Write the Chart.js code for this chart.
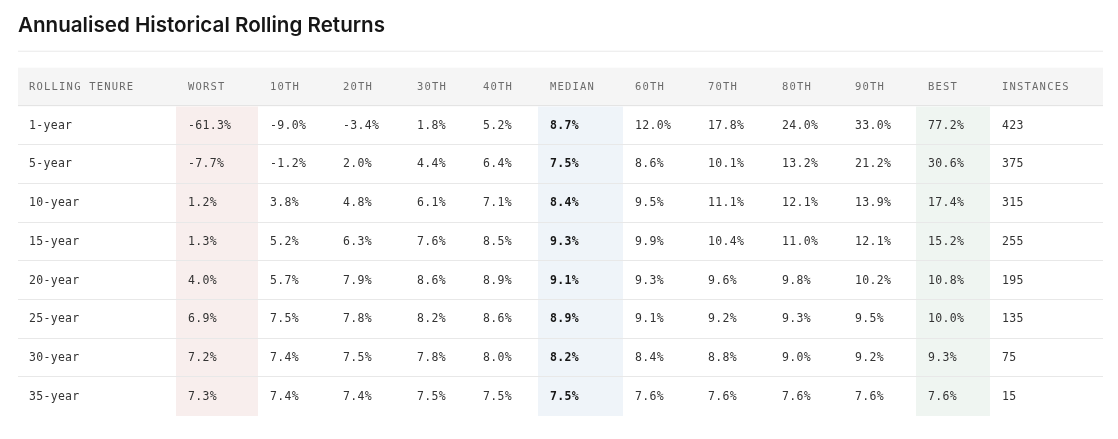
<!DOCTYPE html>
<html>
<head>
<meta charset="utf-8">
<script src="https://cdn.jsdelivr.net/npm/chart.js@4.4.1/dist/chart.umd.min.js"></script>
<style>
  html, body { margin: 0; padding: 0; background: #fff; }
  #wrap { width: 1118px; height: 439px; }
</style>
</head>
<body>
<div id="wrap"><canvas id="rollingReturns"></canvas></div>
<script>
// table data
const headers = ["ROLLING TENURE", "WORST", "10TH", "20TH", "30TH", "40TH", "MEDIAN",
                 "60TH", "70TH", "80TH", "90TH", "BEST", "INSTANCES"];
const tenures = ["1-year", "5-year", "10-year", "15-year", "20-year", "25-year", "30-year", "35-year"];
const worst  = [-61.3, -7.7, 1.2, 1.3, 4.0, 6.9, 7.2, 7.3];
const p10    = [-9.0, -1.2, 3.8, 5.2, 5.7, 7.5, 7.4, 7.4];
const p20    = [-3.4, 2.0, 4.8, 6.3, 7.9, 7.8, 7.5, 7.4];
const p30    = [1.8, 4.4, 6.1, 7.6, 8.6, 8.2, 7.8, 7.5];
const p40    = [5.2, 6.4, 7.1, 8.5, 8.9, 8.6, 8.0, 7.5];
const median = [8.7, 7.5, 8.4, 9.3, 9.1, 8.9, 8.2, 7.5];
const p60    = [12.0, 8.6, 9.5, 9.9, 9.3, 9.1, 8.4, 7.6];
const p70    = [17.8, 10.1, 11.1, 10.4, 9.6, 9.2, 8.8, 7.6];
const p80    = [24.0, 13.2, 12.1, 11.0, 9.8, 9.3, 9.0, 7.6];
const p90    = [33.0, 21.2, 13.9, 12.1, 10.2, 9.5, 9.2, 7.6];
const best   = [77.2, 30.6, 17.4, 15.2, 10.8, 10.0, 9.3, 7.6];
const instances = [423, 375, 315, 255, 195, 135, 75, 15];

const valueCols = [worst, p10, p20, p30, p40, median, p60, p70, p80, p90, best];

// layout: column widths in x-scale units
const colWidths = [158, 82, 73, 74, 66, 67, 85, 73, 74, 73, 73, 74, 113];
const colStarts = [];
colWidths.reduce((acc, w) => { colStarts.push(acc); return acc + w; }, 0);
const tableWidth = colWidths.reduce((a, b) => a + b, 0);

const shades = { 1: "#f8eeed", 6: "#eff4f9", 11: "#eff5f1" };
const monoFont = "'DejaVu Sans Mono', 'Liberation Mono', monospace";

const tablePlugin = {
  id: "tablePlugin",
  beforeDraw(chart) {
    const { ctx, chartArea, scales: { x, y } } = chart;
    ctx.save();

    // rule under the title
    ctx.fillStyle = "#e9e9e9";
    ctx.fillRect(chartArea.left, chartArea.top - 17, chartArea.right - chartArea.left, 1);

    const left = x.getPixelForValue(0);
    const right = x.getPixelForValue(tableWidth);

    // header band
    ctx.fillStyle = "#f5f5f5";
    ctx.fillRect(left, y.getPixelForValue(0), right - left, y.getPixelForValue(1) - y.getPixelForValue(0));

    // shaded columns
    Object.keys(shades).forEach(k => {
      const c = +k;
      const x0 = x.getPixelForValue(colStarts[c]);
      const x1 = x.getPixelForValue(colStarts[c] + colWidths[c]);
      ctx.fillStyle = shades[k];
      ctx.fillRect(x0, y.getPixelForValue(1), x1 - x0, y.getPixelForValue(tenures.length + 1) - y.getPixelForValue(1));
    });

    // row separators
    for (let r = 1; r <= tenures.length; r++) {
      const py = Math.round(y.getPixelForValue(r));
      ctx.fillStyle = r === 1 ? "#e4e4e4" : "#e8e8e8";
      ctx.fillRect(left, py - 1, right - left, 1);
    }

    // header text
    ctx.textBaseline = "middle";
    ctx.textAlign = "left";
    ctx.fillStyle = "#6b6b6b";
    ctx.font = "400 10.5px " + monoFont;
    if ("letterSpacing" in ctx) ctx.letterSpacing = "1.2px";
    headers.forEach((h, c) => {
      ctx.fillText(h, x.getPixelForValue(colStarts[c]) + (c === 0 ? 11 : 12), y.getPixelForValue(0.5));
    });

    // body text
    if ("letterSpacing" in ctx) ctx.letterSpacing = "0.3px";
    tenures.forEach((t, r) => {
      const py = y.getPixelForValue(r + 1.5);
      ctx.font = "400 11.5px " + monoFont;
      ctx.fillStyle = "#333333";
      ctx.fillText(t, x.getPixelForValue(colStarts[0]) + 11, py);
      valueCols.forEach((arr, i) => {
        const c = i + 1;
        const isMedian = arr === median;
        ctx.font = (isMedian ? "700 " : "400 ") + "11.5px " + monoFont;
        ctx.fillStyle = isMedian ? "#161616" : "#333333";
        ctx.fillText(arr[r].toFixed(1) + "%", x.getPixelForValue(colStarts[c]) + 12, py);
      });
      ctx.font = "400 11.5px " + monoFont;
      ctx.fillStyle = "#333333";
      ctx.fillText(String(instances[r]), x.getPixelForValue(colStarts[12]) + 12, py);
    });

    ctx.restore();
  }
};

new Chart(document.getElementById("rollingReturns"), {
  type: "scatter",
  data: { datasets: [] },
  options: {
    responsive: true,
    maintainAspectRatio: false,
    animation: false,
    layout: { padding: { top: 0, left: 18, right: 15, bottom: 23 } },
    scales: {
      x: { type: "linear", min: 0, max: tableWidth, display: false },
      y: { type: "linear", min: 0, max: tenures.length + 1, reverse: true, display: false }
    },
    plugins: {
      legend: { display: false },
      tooltip: { enabled: false },
      title: {
        display: true,
        text: "Annualised Historical Rolling Returns",
        align: "start",
        color: "#161616",
        font: { family: "Inter", size: 20.6, weight: "600" },
        padding: { top: 13, bottom: 30 }
      }
    }
  },
  plugins: [tablePlugin]
});
</script>
</body>
</html>
